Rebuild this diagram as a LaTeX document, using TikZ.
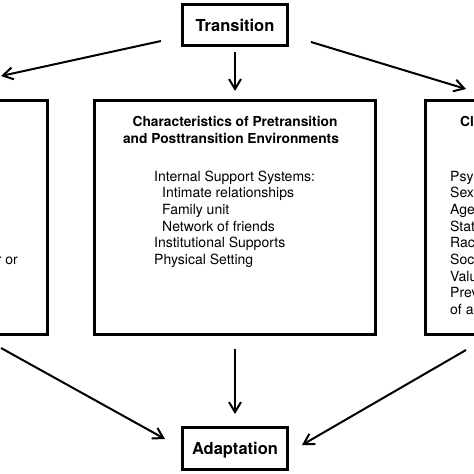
\documentclass[tikz,border=0pt]{standalone}
\usepackage{fontspec}
\setmainfont{TeX Gyre Heros}
\usetikzlibrary{arrows.meta}
\begin{document}
\begin{tikzpicture}[x=1pt,y=-1pt,
  box/.style={draw, line width=3pt, inner sep=0pt},
  conn/.style={line width=2pt, -{Straight Barb[length=10pt,width=12pt,line width=2pt]}},
  body/.style={anchor=base west, inner sep=0pt, font=\fontsize{14}{16.7}\selectfont},
  ttl/.style={anchor=base, inner sep=0pt, font=\fontsize{13.75}{16}\selectfont\bfseries},
  big/.style={font=\fontsize{16.5}{20}\selectfont\bfseries, text depth=0pt}]
\useasboundingbox (0,0) rectangle (474,474);
\clip (0,0) rectangle (474,474);
\fill[white] (0,0) rectangle (474,474);

% top and bottom boxes
\node[box, big, minimum width=105pt, minimum height=41pt] (trans) at (235,25) {Transition};
\node[box, big, minimum width=105pt, minimum height=42pt] (adapt) at (235,448.5) {Adaptation};

% three middle boxes
\node[box, minimum width=281pt, minimum height=234pt] (env) at (235,217.5) {};
\node[box, minimum width=150pt, minimum height=234pt] (lft) at (-27.5,217.5) {};
\node[box, minimum width=150pt, minimum height=234pt] (rgt) at (500.5,217.5) {};

% middle box text
\node[ttl] (t1) at (235,126) {Characteristics of Pretransition};
\node[ttl] (t2) at (231,143.5) {and Posttransition Environments};
\node[body] (b1) at (154,181) {Internal Support Systems:};
\node[body] (b2) at (162,197.7) {Intimate relationships};
\node[body] (b3) at (162,214.4) {Family unit};
\node[body] (b4) at (162,231.1) {Network of friends};
\node[body] (b5) at (154,247.8) {Institutional Supports};
\node[body] (b6) at (154,264.5) {Physical Setting};

% left box text
\node[body, anchor=base east] (l1) at (18,264.5) {r or};

% right box text
\node[ttl, anchor=base west] (r0) at (460,126) {Cl};
\node[body] (r1) at (450,181) {Psy};
\node[body] (r2) at (450,197.7) {Sex};
\node[body] (r3) at (450,214.4) {Age};
\node[body] (r4) at (450,231.1) {Stat};
\node[body] (r5) at (450,247.8) {Rac};
\node[body] (r6) at (450,264.5) {Soc};
\node[body] (r7) at (450,281.2) {Valu};
\node[body] (r8) at (450,297.9) {Prev};
\node[body] (r9) at (450,314.6) {of a};

% connector end points
\coordinate (a1s) at (161,41);  \coordinate (a1e) at (1,76);
\coordinate (a2s) at (235,52);  \coordinate (a2e) at (235,91);
\coordinate (a3s) at (311,42);  \coordinate (a3e) at (466,89);
\coordinate (b1s) at (1,348);   \coordinate (b1e) at (165,439);
\coordinate (b2s) at (235,349); \coordinate (b2e) at (235,414);
\coordinate (b3s) at (466,350); \coordinate (b3e) at (302,445);

\draw[conn] (a1s) -- (a1e);
\draw[conn] (a2s) -- (a2e);
\draw[conn] (a3s) -- (a3e);
\draw[conn] (b1s) -- (b1e);
\draw[conn] (b2s) -- (b2e);
\draw[conn] (b3s) -- (b3e);
\end{tikzpicture}
\end{document}
